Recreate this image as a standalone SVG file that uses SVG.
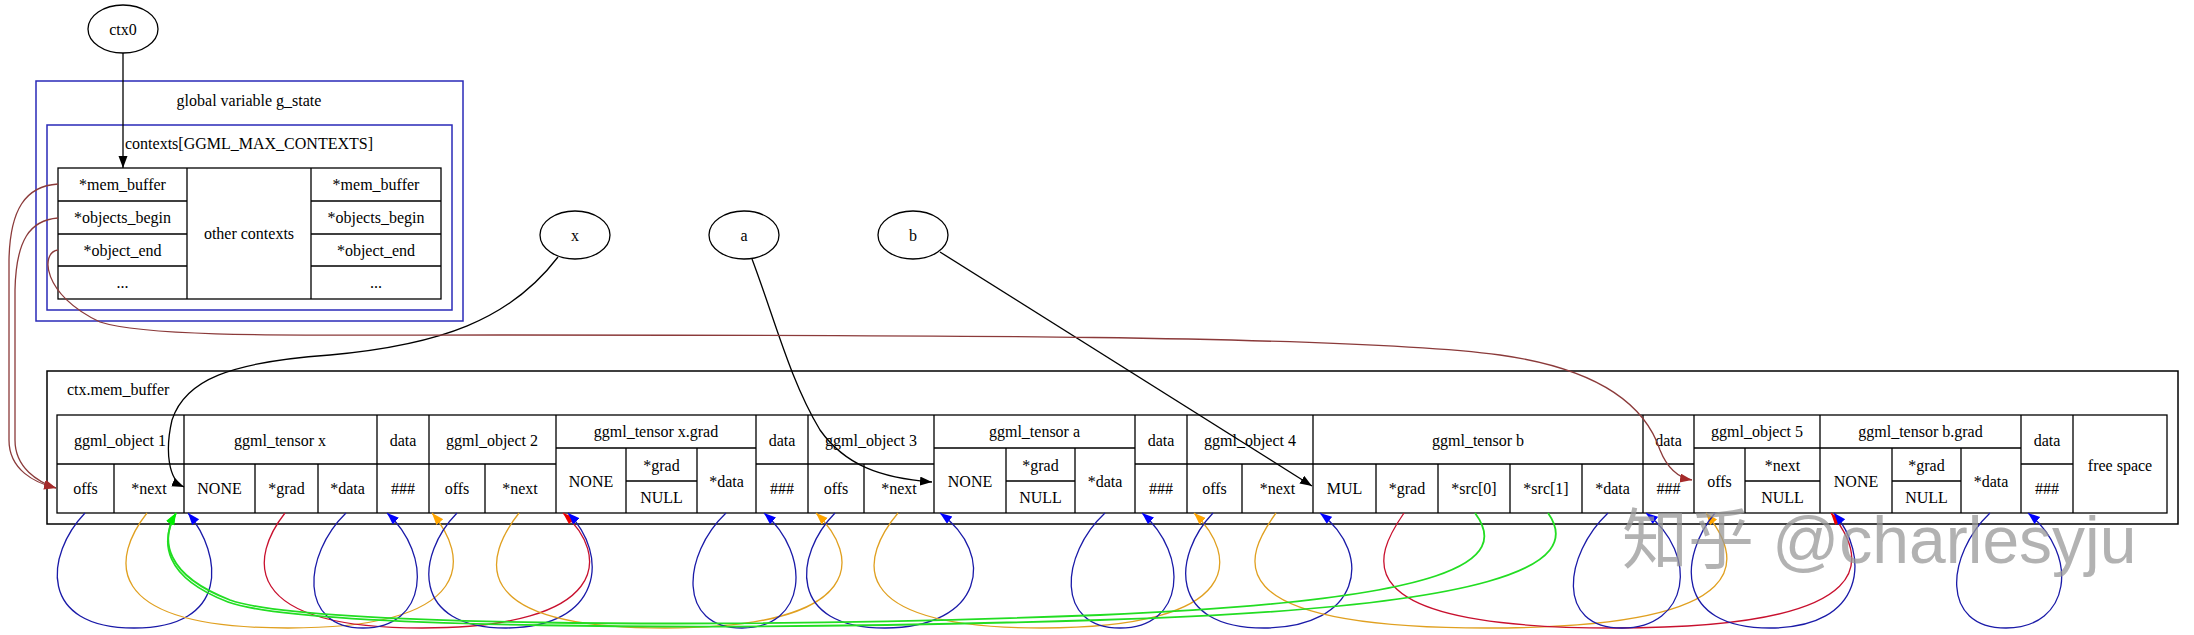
<svg xmlns="http://www.w3.org/2000/svg" width="2194" height="635" viewBox="0 0 2194 635">
<style>
text{font-family:"Liberation Serif","Times New Roman",serif;font-size:16px;fill:#000;text-anchor:middle;dominant-baseline:central}
.c{fill:#fff;stroke:#000;stroke-width:1.3}
.l{stroke:#000;stroke-width:1.3;fill:none}
.e{fill:none;stroke-width:1.3}
.bl{stroke:#1a1aa8;marker-end:url(#mb)}
.or{stroke:#e0a020;marker-end:url(#mo)}
.rd{stroke:#c8102e;marker-end:url(#mr)}
.gr{stroke:#22dd22;stroke-width:1.8;marker-end:url(#mg)}
.br{stroke:#8b3a3a;marker-end:url(#mbr)}
.bk{stroke:#000;marker-end:url(#mk)}
</style>
<defs>
<marker id="mk" markerUnits="userSpaceOnUse" markerWidth="14" markerHeight="10" refX="12" refY="4.5" orient="auto"><path d="M0,0 L12,4.5 L0,9z" fill="#000"/></marker>
<marker id="mb" markerUnits="userSpaceOnUse" markerWidth="14" markerHeight="10" refX="12" refY="4.5" orient="auto"><path d="M0,0 L12,4.5 L0,9z" fill="#0000ff"/></marker>
<marker id="mo" markerUnits="userSpaceOnUse" markerWidth="14" markerHeight="10" refX="12" refY="4.5" orient="auto"><path d="M0,0 L12,4.5 L0,9z" fill="#ffa500"/></marker>
<marker id="mr" markerUnits="userSpaceOnUse" markerWidth="14" markerHeight="10" refX="12" refY="4.5" orient="auto"><path d="M0,0 L12,4.5 L0,9z" fill="#ee0000"/></marker>
<marker id="mg" markerUnits="userSpaceOnUse" markerWidth="14" markerHeight="10" refX="12" refY="4.5" orient="auto"><path d="M0,0 L12,4.5 L0,9z" fill="#00ee00"/></marker>
<marker id="mbr" markerUnits="userSpaceOnUse" markerWidth="14" markerHeight="10" refX="12" refY="4.5" orient="auto"><path d="M0,0 L12,4.5 L0,9z" fill="#a52a2a"/></marker>
</defs>

<g id="ctx0"><ellipse cx="123" cy="29" rx="35" ry="24" class="c"/><text x="123" y="29">ctx0</text></g>
<g id="x"><ellipse cx="575" cy="235" rx="35" ry="24" class="c"/><text x="575" y="235">x</text></g>
<g id="a"><ellipse cx="744" cy="235" rx="35" ry="24" class="c"/><text x="744" y="235">a</text></g>
<g id="b"><ellipse cx="913" cy="235" rx="35" ry="24" class="c"/><text x="913" y="235">b</text></g>

<g id="g_state">
<rect x="36" y="81" width="427" height="240" fill="none" stroke="#2a2ab8" stroke-width="1.5"/>
<text x="249" y="100">global variable g_state</text>
<rect x="47" y="125" width="405" height="185" fill="none" stroke="#2a2ab8" stroke-width="1.5"/>
<text x="249" y="143">contexts[GGML_MAX_CONTEXTS]</text>
<g id="contexts">
<rect x="58" y="168" width="383" height="131" class="c"/>
<path class="l" d="M187,168V299M311,168V299M58,201H187M58,234H187M58,266H187M311,201H441M311,234H441M311,266H441"/>
<text x="122.5" y="184">*mem_buffer</text><text x="122.5" y="217">*objects_begin</text><text x="122.5" y="250">*object_end</text><text x="122.5" y="282">...</text>
<text x="249" y="233">other contexts</text>
<text x="376" y="184">*mem_buffer</text><text x="376" y="217">*objects_begin</text><text x="376" y="250">*object_end</text><text x="376" y="282">...</text>
</g>
</g>

<g id="mem_buffer">
<rect x="47" y="371" width="2131" height="153" fill="none" stroke="#000" stroke-width="1.5"/>
<text x="67" y="389" style="text-anchor:start">ctx.mem_buffer</text>
<rect x="57" y="415" width="2110" height="98" class="c"/>
<path class="l" d="M184,415V513M377,415V513M429,415V513M556,415V513M756,415V513M808,415V513M934,415V513M1135,415V513M1187,415V513M1313,415V513M1643,415V513M1694,415V513M1820,415V513M2021,415V513M2073,415V513"/>
<path class="l" d="M57,464H556M756,464H934M1135,464H1694M2021,464H2073"/>
<path class="l" d="M114,464V513M255,464V513M318,464V513M485,464V513M864,464V513M1242,464V513M1376,464V513M1438,464V513M1510,464V513M1582,464V513"/>
<path class="l" d="M556,448H756M934,448H1135M1694,448H2021M626,448V513M697,448V513M1006,448V513M1075,448V513M1745,448V513M1892,448V513M1961,448V513M626,481H697M1006,481H1075M1745,481H1820M1892,481H1961"/>
<text x="120" y="440">ggml_object 1</text><text x="85.5" y="488">offs</text><text x="149" y="488">*next</text>
<text x="280" y="440">ggml_tensor x</text><text x="219.5" y="488">NONE</text><text x="286.5" y="488">*grad</text><text x="347.5" y="488">*data</text>
<text x="403" y="440">data</text><text x="403" y="488">###</text>
<text x="492" y="440">ggml_object 2</text><text x="457" y="488">offs</text><text x="520" y="488">*next</text>
<text x="656" y="431">ggml_tensor x.grad</text><text x="591" y="481">NONE</text><text x="661.5" y="465">*grad</text><text x="661.5" y="497">NULL</text><text x="726.5" y="481">*data</text>
<text x="782" y="440">data</text><text x="782" y="488">###</text>
<text x="871" y="440">ggml_object 3</text><text x="836" y="488">offs</text><text x="899" y="488">*next</text>
<text x="1034.5" y="431">ggml_tensor a</text><text x="970" y="481">NONE</text><text x="1040.5" y="465">*grad</text><text x="1040.5" y="497">NULL</text><text x="1105" y="481">*data</text>
<text x="1161" y="440">data</text><text x="1161" y="488">###</text>
<text x="1250" y="440">ggml_object 4</text><text x="1214.5" y="488">offs</text><text x="1277.5" y="488">*next</text>
<text x="1478" y="440">ggml_tensor b</text><text x="1344.5" y="488">MUL</text><text x="1407" y="488">*grad</text><text x="1474" y="488">*src[0]</text><text x="1546" y="488">*src[1]</text><text x="1612.5" y="488">*data</text>
<text x="1668.5" y="440">data</text><text x="1668.5" y="488">###</text>
<text x="1757" y="431">ggml_object 5</text><text x="1719.5" y="481">offs</text><text x="1782.5" y="465">*next</text><text x="1782.5" y="497">NULL</text>
<text x="1920.5" y="431">ggml_tensor b.grad</text><text x="1856" y="481">NONE</text><text x="1926.5" y="465">*grad</text><text x="1926.5" y="497">NULL</text><text x="1991" y="481">*data</text>
<text x="2047" y="440">data</text><text x="2047" y="488">###</text>
<text x="2120" y="465">free space</text>
</g>

<g id="connectors">
<path class="e bk" d="M123,53V168"/>
<path class="e bk" d="M558,257C510,320 440,345 330,355C230,362 185,380 172,420C165,450 168,480 184,487"/>
<path class="e bk" d="M752,259C775,320 790,380 820,430C845,465 880,478 932,482"/>
<path class="e bk" d="M940,252L1312,486"/>
<path class="e br" d="M58,184C25,186 10,210 9,260V440C9,470 35,483 56,488"/>
<path class="e br" d="M58,218C30,220 16,240 15,290V440C15,468 38,482 56,488"/>
<path class="e br" d="M58,250C40,252 42,295 100,322C150,338 300,335 500,335C900,335 1350,335 1500,355C1620,372 1650,420 1660,450C1668,470 1680,478 1692,480"/>

<path class="e bl" d="M85,513C45,555 38,628 134,628C230,628 223,555 188,513"/>
<path class="e or" d="M147,513C114,555 95,628 288,628C480,628 468,555 432,513"/>
<path class="e rd" d="M285,513C252,555 235,628 422,628C610,628 611,555 563,513"/>
<path class="e bl" d="M346,513C303,555 298,628 363,628C428,628 433,555 387,513"/>
<path class="e bl" d="M457,513C416,555 410,628 506,628C602,628 610,555 568,513"/>
<path class="e or" d="M519,513C486,555 460,628 665,628C870,628 860,555 816,513"/>
<path class="e bl" d="M726,513C682,555 677,628 742,628C807,628 812,555 764,513"/>
<path class="e bl" d="M835,513C794,555 787,628 885,628C983,628 997,555 940,513"/>
<path class="e or" d="M898,513C863,555 837,628 1042,628C1247,628 1238,555 1194,513"/>
<path class="e bl" d="M1105,513C1060,555 1055,628 1120,628C1185,628 1190,555 1142,513"/>
<path class="e bl" d="M1213,513C1173,555 1167,628 1264,628C1360,628 1375,555 1320,513"/>
<path class="e or" d="M1276,513C1246,555 1206,628 1487,628C1768,628 1740,555 1706,513"/>
<path class="e rd" d="M1404,513C1375,555 1336,628 1614,628C1892,628 1865,555 1831,513"/>
<path class="e bl" d="M1608,513C1564,555 1555,628 1622,628C1689,628 1700,555 1646,513"/>
<path class="e bl" d="M1715,513C1680,555 1673,628 1770,628C1866,628 1870,555 1834,513"/>
<path class="e bl" d="M1990,513C1946,555 1940,628 2006,628C2071,628 2080,555 2028,513"/>
<path class="e gr" d="M1475,513C1510,560 1460,600 1100,615C700,630 300,625 230,600C165,575 160,540 176,513"/>
<path class="e gr" d="M1548,513C1585,565 1500,608 1100,620C700,632 300,628 228,602C163,577 160,542 176,513"/>
</g>

<text x="1622" y="563" style="text-anchor:start;dominant-baseline:alphabetic;font-family:'Liberation Sans','Noto Sans CJK SC',sans-serif;font-size:66px;fill:#999;opacity:0.75">知乎 @charlesyju</text>
</svg>
